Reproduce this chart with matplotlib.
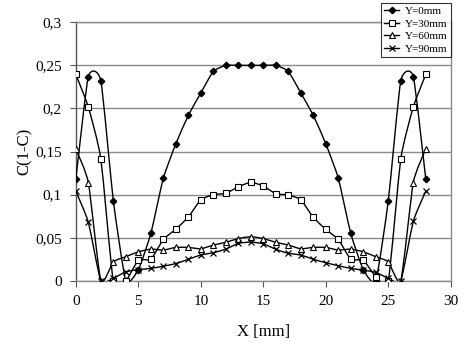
import numpy as np
import matplotlib
matplotlib.use("Agg")
import matplotlib.pyplot as plt
from matplotlib.path import Path
from matplotlib.patches import PathPatch
from matplotlib.lines import Line2D

x_mm = list(range(0, 29))
y0 = [0.118, 0.237, 0.232, 0.093, 0.0, 0.013, 0.055, 0.119, 0.159, 0.192, 0.218, 0.243,
      0.25, 0.25, 0.25, 0.25, 0.25, 0.243, 0.218, 0.192, 0.159, 0.119, 0.055, 0.013,
      0.0, 0.093, 0.232, 0.237, 0.118]
y30 = [0.2395, 0.2016, 0.1415, 0.0, 0.0, 0.024, 0.025, 0.048, 0.060, 0.074, 0.094, 0.100,
       0.1016, 0.109, 0.1144, 0.110, 0.101, 0.0997, 0.094, 0.0737, 0.0597, 0.048, 0.025,
       0.024, 0.005, 0.0, 0.1415, 0.2016, 0.2395]
y60 = [0.153, 0.114, 0.0, 0.022, 0.028, 0.0337, 0.0368, 0.0357, 0.0388, 0.0388, 0.0372,
       0.0415, 0.0447, 0.049, 0.0512, 0.049, 0.0447, 0.0415, 0.0372, 0.0388, 0.0388, 0.0357,
       0.0368, 0.0337, 0.028, 0.022, 0.0, 0.114, 0.153]
y90 = [0.104, 0.068, 0.0, 0.003, 0.0105, 0.013, 0.0144, 0.017, 0.020, 0.025, 0.030, 0.0326,
       0.0368, 0.0435, 0.045, 0.043, 0.0365, 0.0319, 0.030, 0.025, 0.021, 0.0175, 0.0144,
       0.0124, 0.0098, 0.003, 0.0, 0.069, 0.104]
labels = ["Y=0mm", "Y=30mm", "Y=60mm", "Y=90mm"]
x_ticks = [0, 5, 10, 15, 20, 25, 30]
y_ticks = [0, 0.05, 0.1, 0.15, 0.2, 0.25, 0.3]
y_ticklabels = ["0", "0,05", "0,1", "0,15", "0,2", "0,25", "0,3"]

plt.rcParams['font.family'] = ['Liberation Serif', 'DejaVu Serif']

fig = plt.figure(figsize=(4.74, 3.48), dpi=100)
ax = fig.add_axes([0.160, 0.193, 0.791, 0.743])


def smooth_path(xs, ys, t=0.09):
    p = np.column_stack([xs, ys]).astype(float)
    n = len(p)
    verts = [p[0]]
    codes = [Path.MOVETO]
    for i in range(n - 1):
        p0 = p[i - 1] if i > 0 else p[i]
        p1 = p[i]
        p2 = p[i + 1]
        p3 = p[i + 2] if i + 2 < n else p[i + 1]
        c1 = p1 + (p2 - p0) * t
        c2 = p2 - (p3 - p1) * t
        verts += [c1, c2, p2]
        codes += [Path.CURVE4] * 3
    return Path(verts, codes)


series = [
    (y0, dict(marker='D', markersize=3.3, markerfacecolor='black', markeredgecolor='black')),
    (y30, dict(marker='s', markersize=4.0, markerfacecolor='white', markeredgecolor='black', markeredgewidth=0.8)),
    (y60, dict(marker='^', markersize=4.3, markerfacecolor='white', markeredgecolor='black', markeredgewidth=0.8)),
    (y90, dict(marker='x', markersize=3.8, markeredgecolor='black', markeredgewidth=0.9)),
]

handles = []
for (ys, mk), lab in zip(series, labels):
    patch = PathPatch(smooth_path(x_mm, ys), facecolor='none', edgecolor='black', lw=1.0, zorder=3)
    ax.add_patch(patch)
    ax.plot(x_mm, ys, linestyle='none', zorder=4, **mk)
    handles.append(Line2D([], [], color='black', lw=1.0, label=lab, **mk))

ax.set_xlim(0, 30)
ax.set_ylim(0, 0.3)
ax.set_xticks(x_ticks)
ax.set_xticklabels([str(t) for t in x_ticks], fontsize=11)
ax.set_yticks(y_ticks)
ax.set_yticklabels(y_ticklabels, fontsize=11)
ax.tick_params(axis='both', direction='out', length=4, width=0.8, color='#555555', pad=6)
ax.yaxis.grid(True, color='#8a8a8a', lw=1.0)
ax.set_axisbelow(True)
for s in ['top', 'right', 'bottom']:
    ax.spines[s].set_color('#8a8a8a')
    ax.spines[s].set_linewidth(1.0)
ax.spines['left'].set_color('#555555')
ax.spines['left'].set_linewidth(1.0)

ax.set_xlabel("X [mm]", fontsize=12, labelpad=12)
ax.set_ylabel("C(1-C)", fontsize=12, labelpad=2)

leg = fig.legend(handles=handles, loc='upper right', bbox_to_anchor=(451/474, 1 - 3/348),
                 fontsize=8, frameon=True, fancybox=False, edgecolor='black',
                 handlelength=1.4, handletextpad=0.5, borderpad=0.3, labelspacing=0.25,
                 borderaxespad=0)
leg.get_frame().set_linewidth(0.8)
leg.set_zorder(10)

fig.savefig("out.png", dpi=100)
